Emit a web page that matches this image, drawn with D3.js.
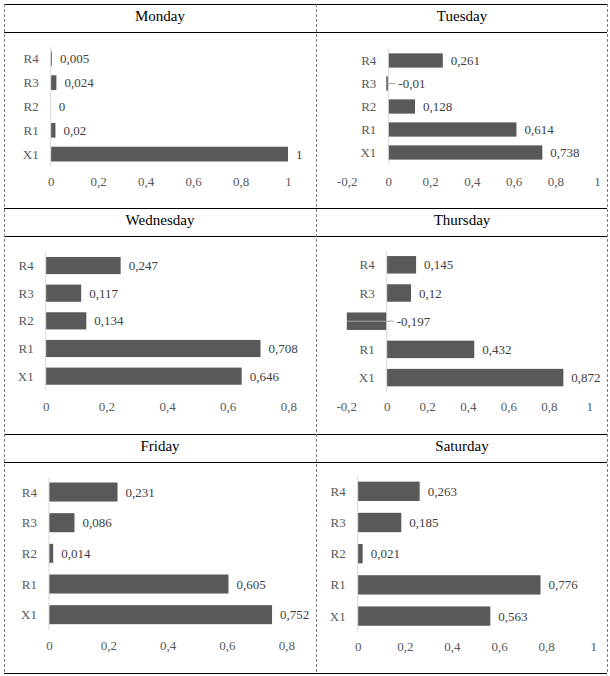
<!DOCTYPE html>
<html>
<head>
<meta charset="utf-8">
<script src="https://cdn.jsdelivr.net/npm/d3@7"></script>
<style>
  body { margin: 0; background: #fff; }
  svg text { font-family: "Liberation Serif", "DejaVu Serif", serif !important; }
</style>
</head>
<body>
<div id="chart"></div>
<script>
// categories, bottom to top
var categories = ["X1", "R1", "R2", "R3", "R4"];

// values per day, same order as categories
var monday    = [1, 0.02, 0, 0.024, 0.005];
var tuesday   = [0.738, 0.614, 0.128, -0.01, 0.261];
var wednesday = [0.646, 0.708, 0.134, 0.117, 0.247];
var thursday  = [0.872, 0.432, -0.197, 0.12, 0.145];
var friday    = [0.752, 0.605, 0.014, 0.086, 0.231];
var saturday  = [0.563, 0.776, 0.021, 0.185, 0.263];

var days = ["Monday", "Tuesday", "Wednesday", "Thursday", "Friday", "Saturday"];

// tick values for each panel's value axis
var ticksToOne = [0, 0.2, 0.4, 0.6, 0.8, 1];
var ticksNegToOne = [-0.2, 0, 0.2, 0.4, 0.6, 0.8, 1];
var ticksToEight = [0, 0.2, 0.4, 0.6, 0.8];

var W = 610, H = 676;
var serif = "'Liberation Serif', 'DejaVu Serif', serif";

var svg = d3.select("#chart")
  .append("svg")
  .attr("width", W)
  .attr("height", H);

// table grid
var rowLines = [4, 32, 208, 236, 434, 462, 673];
var colLines = [4, 316, 607];

svg.selectAll("line.row")
  .data(rowLines)
  .enter()
  .append("line")
  .attr("x1", 4).attr("x2", 607)
  .attr("y1", function (d) { return d + 0.5; })
  .attr("y2", function (d) { return d + 0.5; })
  .attr("stroke", "#000")
  .attr("stroke-width", 1);

svg.selectAll("line.col")
  .data(colLines)
  .enter()
  .append("line")
  .attr("x1", function (d) { return d + 0.5; })
  .attr("x2", function (d) { return d + 0.5; })
  .attr("y1", 4).attr("y2", 673)
  .attr("stroke", "#808080")
  .attr("stroke-dasharray", "3,2")
  .attr("stroke-width", 1);

// comma decimals, plain hyphen minus
var loc = d3.formatLocale({ decimal: ",", thousands: ".", grouping: [3], currency: ["", ""], minus: "-" });
var fmt = loc.format("~g");

// panel placement
var panels = [
  { name: days[0], values: monday,    ticks: ticksToOne,    cx: 160, titleY: 21,  x0: 50.7,  x1: 288,   y0: 47,    y1: 166,   tickY: 183 },
  { name: days[1], values: tuesday,   ticks: ticksNegToOne, cx: 462, titleY: 21,  x0: 346.6, x1: 597,   y0: 49,    y1: 164,   tickY: 183 },
  { name: days[2], values: wednesday, ticks: ticksToEight,  cx: 160, titleY: 225, x0: 45.7,  x1: 288.4, y0: 251.7, y1: 390,   tickY: 408 },
  { name: days[3], values: thursday,  ticks: ticksNegToOne, cx: 462, titleY: 225, x0: 346.2, x1: 589.3, y0: 250.7, y1: 391.7, tickY: 408 },
  { name: days[4], values: friday,    ticks: ticksToEight,  cx: 160, titleY: 451, x0: 49,    x1: 286.3, y0: 476.7, y1: 630,   tickY: 647 },
  { name: days[5], values: saturday,  ticks: ticksToOne,    cx: 462, titleY: 451, x0: 357.7, x1: 593.3, y0: 475.7, y1: 631.7, tickY: 648 }
];

panels.forEach(function (p) {
  var data = categories.map(function (c, i) { return { cat: c, v: p.values[i] }; });

  svg.append("text")
    .attr("x", p.cx)
    .attr("y", p.titleY)
    .attr("text-anchor", "middle")
    .style("font-family", serif)
    .style("font-size", "15px")
    .attr("fill", "#000")
    .text(p.name);

  var x = d3.scaleLinear()
    .domain([p.ticks[0], p.ticks[p.ticks.length - 1]])
    .range([p.x0, p.x1]);

  // X1 at the bottom
  var y = d3.scaleBand()
    .domain(categories.slice().reverse())
    .range([p.y0, p.y1])
    .paddingInner(0.38)
    .paddingOuter(0.19);

  var g = svg.append("g");

  // value axis labels
  var xAxis = g.append("g")
    .attr("transform", "translate(0," + (p.tickY - 6) + ")")
    .call(d3.axisBottom(x).tickValues(p.ticks).tickSize(0).tickPadding(0).tickFormat(fmt));
  xAxis.attr("font-family", null).attr("font-size", null);
  xAxis.select(".domain").remove();
  xAxis.selectAll("text")
    .style("font-family", serif)
    .style("font-size", "13px")
    .attr("fill", "#595959");

  // category labels
  g.selectAll("text.cat")
    .data(data)
    .enter()
    .append("text")
    .attr("class", "cat")
    .attr("x", x(0) - 12)
    .attr("y", function (d) { return y(d.cat) + y.bandwidth() / 2; })
    .attr("dy", "0.35em")
    .attr("text-anchor", "end")
    .style("font-family", serif)
    .style("font-size", "13px")
    .attr("fill", "#595959")
    .text(function (d) { return d.cat; });

  // bars
  g.selectAll("rect")
    .data(data)
    .enter()
    .append("rect")
    .attr("x", function (d) { return x(Math.min(0, d.v)); })
    .attr("y", function (d) { return y(d.cat); })
    .attr("width", function (d) { return Math.abs(x(d.v) - x(0)); })
    .attr("height", y.bandwidth())
    .attr("fill", "#595959");

  // zero line
  g.append("line")
    .attr("x1", x(0)).attr("x2", x(0))
    .attr("y1", p.y0).attr("y2", p.y1)
    .attr("stroke", "#d9d9d9")
    .attr("stroke-width", 1);

  // leader lines for negative values
  g.selectAll("line.lead")
    .data(data.filter(function (d) { return d.v < 0; }))
    .enter()
    .append("line")
    .attr("class", "lead")
    .attr("x1", function (d) { return x(d.v); })
    .attr("x2", x(0) + 7)
    .attr("y1", function (d) { return y(d.cat) + y.bandwidth() / 2; })
    .attr("y2", function (d) { return y(d.cat) + y.bandwidth() / 2; })
    .attr("stroke", "#a6a6a6")
    .attr("stroke-width", 1);

  // value labels
  g.selectAll("text.val")
    .data(data)
    .enter()
    .append("text")
    .attr("class", "val")
    .attr("x", function (d) { return d.v < 0 ? x(0) + 10 : x(d.v) + 8; })
    .attr("y", function (d) { return y(d.cat) + y.bandwidth() / 2; })
    .attr("dy", "0.35em")
    .style("font-family", serif)
    .style("font-size", "13px")
    .attr("fill", "#404040")
    .text(function (d) { return fmt(d.v); });
});
</script>
</body>
</html>
